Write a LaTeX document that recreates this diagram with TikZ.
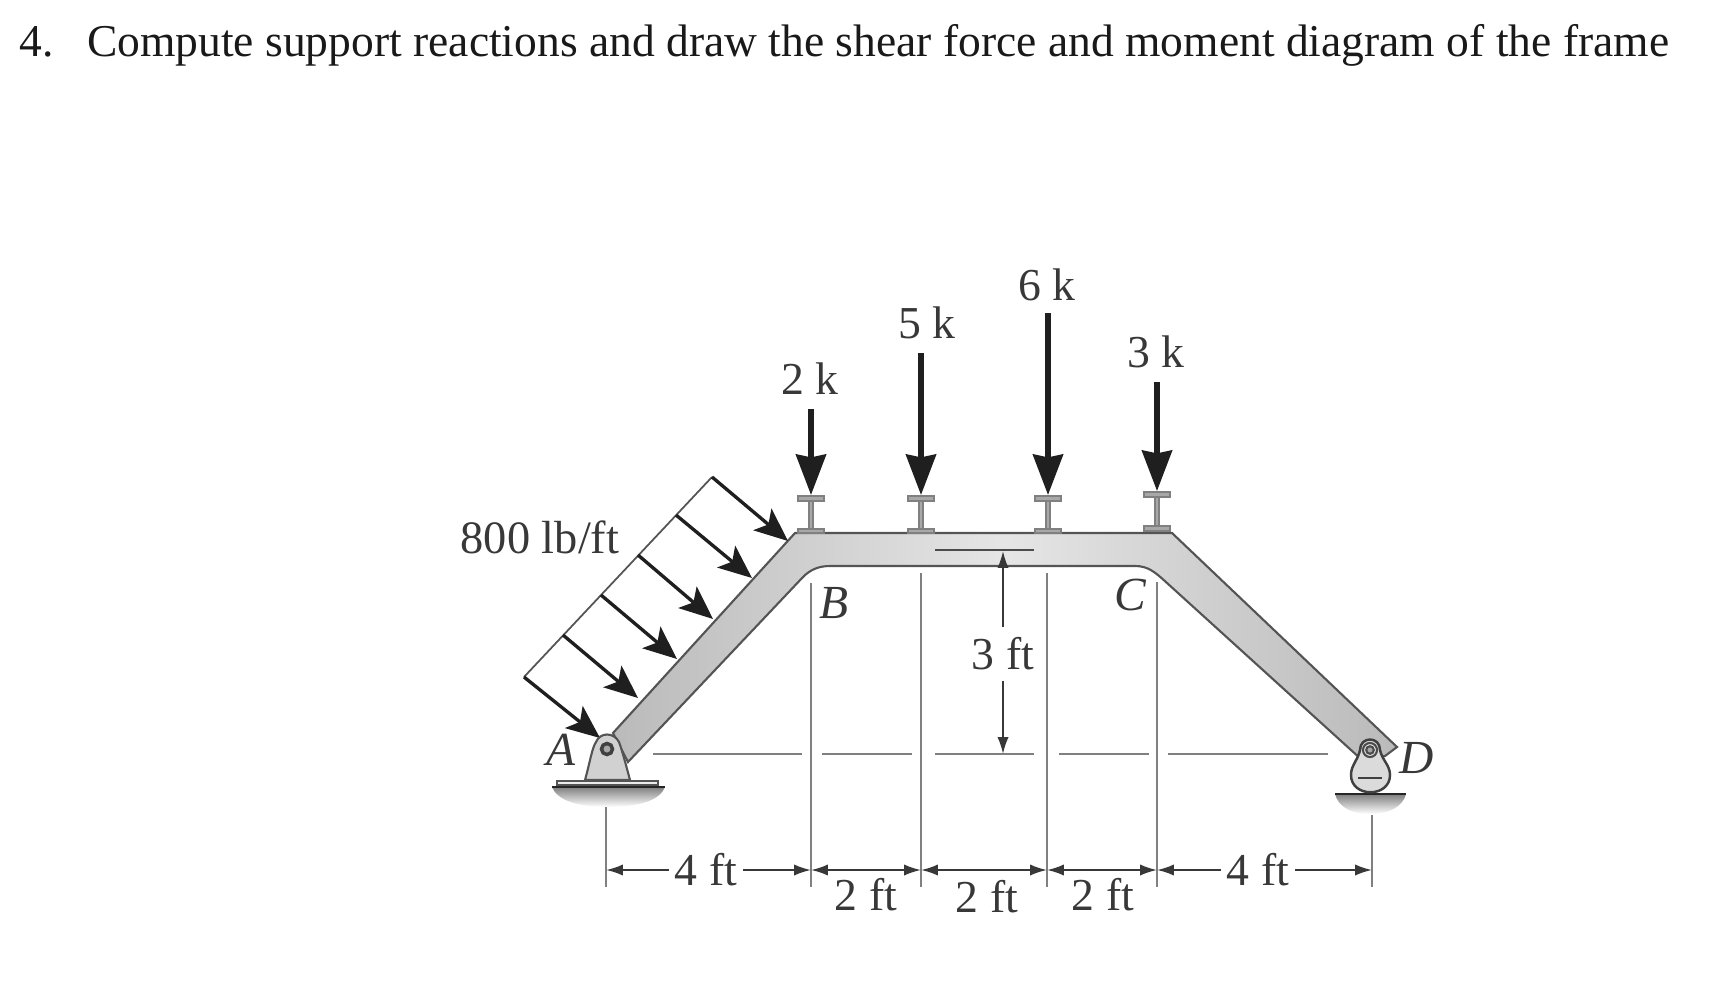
\documentclass[tikz,border=0pt]{standalone}
\usepackage{fontspec}
\setmainfont{Liberation Serif}
\usetikzlibrary{arrows.meta}
\definecolor{inkgray}{gray}{0.22}
\definecolor{rulegray}{gray}{0.5}
\definecolor{edgegray}{gray}{0.33}
\definecolor{steelgray}{gray}{0.66}
\tikzset{
   label/.style = {font=\fontsize{13}{15}\selectfont, text=inkgray, inner sep=1pt},
   pointname/.style = {label, font=\fontsize{13.5}{15}\selectfont\itshape},
   helpline/.style = {color=rulegray, line width=0.55pt},
   dimarrow/.style = {color=inkgray, line width=0.55pt, -{Latex[length=4.8pt,width=3.2pt]}},
   dimboth/.style = {color=inkgray, line width=0.55pt, {Latex[length=4.8pt,width=3.2pt]}-{Latex[length=4.8pt,width=3.2pt]}},
   udl/.style = {color=black!88, line width=0.95pt, -{Stealth[length=9.5pt,width=8pt,inset=2.2pt]}},
   pointload/.style = {color=black!88, line width=1.5pt, -{Stealth[length=11.5pt,width=8.5pt,inset=0.8pt]}},
   isection/.style = {fill=steelgray, draw=rulegray, line width=0.35pt},
   ground/.style = {top color=black!50, bottom color=white}
}
\begin{document}
\begin{tikzpicture}[x=0.01cm, y=-0.01cm]
   \useasboundingbox (0,0) rectangle (1712,1000);
   \node[anchor=base west, inner sep=0pt, text=black!90, font=\fontsize{12.95}{15}\selectfont] (title) at (19,57)
      {4.\hspace{0.73em}Compute support reactions and draw the shear force and moment diagram of the frame};

   % frame
   \draw[edgegray, line width=0.6pt, left color=black!27, right color=black!27, middle color=black!10]
      (613,733) -- (795,533) -- (1172,533) -- (1397,747) -- (1385,756) -- (1362,760) -- (1167,583)
      .. controls (1155,572) and (1148,566) .. (1135,566) -- (830,566)
      .. controls (818,566) and (810,570) .. (803,577) -- (628,762) -- cycle;
   \draw[color=black!70, line width=0.55pt] (935,550) -- (1034,550);

   % distributed load
   \draw[color=edgegray, line width=0.5pt] (524,677) -- (712,477);
   \draw[udl] (524,677) -- (600,738);
   \draw[udl] (563,635) -- (638,698);
   \draw[udl] (601,595) -- (677,659);
   \draw[udl] (638,555) -- (713,619);
   \draw[udl] (676,515) -- (752,578);
   \draw[udl] (712,477) -- (788,541);

   % point loads on their stubs
   \draw[isection] (798,496) rectangle (824,501) (809,501) rectangle (813,529) (798,529) rectangle (824,533);
   \draw[isection] (908,496) rectangle (934,501) (919,501) rectangle (923,529) (908,529) rectangle (934,533);
   \draw[isection] (1035,496) rectangle (1061,501) (1046,501) rectangle (1050,529) (1035,529) rectangle (1061,533);
   \draw[isection] (1144,492) rectangle (1170,497) (1155,497) rectangle (1159,526) (1144,526) rectangle (1170,531);
   \draw[pointload] (811,409) -- (811,495);
   \draw[pointload] (921,353) -- (921,495);
   \draw[pointload] (1048,313) -- (1048,495);
   \draw[pointload] (1157,382) -- (1157,491);
   \node[label] (loadb) at (810,379) {2 k};
   \node[label] (loadc) at (927,323) {5 k};
   \node[label] (loadd) at (1047,285) {6 k};
   \node[label] (loade) at (1156,352) {3 k};
   \node[label, font=\fontsize{13.2}{15}\selectfont] (udlval) at (540,537) {800 lb/ft};

   % pin at A
   \shade[ground] (552,787) -- (665,787) .. controls (660,800) and (640,807) .. (608,807)
      .. controls (577,807) and (557,800) .. (552,787) -- cycle;
   \draw[edgegray, line width=0.5pt, fill=black!8] (557,781) rectangle (658,785);
   \draw[color=black!85, line width=0.6pt] (552,787) -- (665,787);
   \draw[edgegray, line width=0.6pt, fill=black!18] (585,780)
      .. controls (590,762) and (592,748) .. (596,742)
      .. controls (600,732) and (614,732) .. (619,742)
      .. controls (622,750) and (626,765) .. (630,780) -- cycle;
   \draw[color=black!75, line width=1pt, fill=black!35] (607,749) circle (5.5);
   \node[pointname] (ptA) at (561,750) {A};

   % rocker at D
   \shade[ground] (1335,794) -- (1406,794) .. controls (1403,806) and (1390,814) .. (1370,814)
      .. controls (1350,814) and (1338,806) .. (1335,794) -- cycle;
   \draw[color=black!85, line width=0.7pt] (1335,794) -- (1406,794);
   \draw[color=black!75, line width=0.7pt, fill=black!14] (1360,750)
      .. controls (1360,736) and (1380,736) .. (1380,750)
      .. controls (1382,760) and (1390,765) .. (1390,775)
      .. controls (1390,798) and (1351,798) .. (1351,775)
      .. controls (1351,765) and (1358,760) .. (1360,750);
   \draw[color=black!70, line width=0.6pt, fill=black!10] (1370,750) circle (7);
   \draw[color=black!70, line width=0.6pt, fill=black!35] (1370,750) circle (3.8);
   \draw[color=black!75, line width=0.7pt] (1358,778) -- (1382,778);
   \node[pointname] (ptD) at (1417,758) {D};

   \node[pointname] (ptB) at (834,603) {B};
   \node[pointname] (ptC) at (1130,595) {C};

   % base line, broken by the verticals
   \draw[helpline] (653,754) -- (802,754);
   \draw[helpline] (822,754) -- (912,754);
   \draw[helpline] (935,754) -- (1034,754);
   \draw[helpline] (1059,754) -- (1149,754);
   \draw[helpline] (1168,754) -- (1328,754);

   % verticals
   \draw[helpline] (606,807) -- (606,887);
   \draw[helpline] (811,583) -- (811,887);
   \draw[helpline] (921,573) -- (921,887);
   \draw[helpline] (1047,573) -- (1047,887);
   \draw[helpline] (1157,582) -- (1157,887);
   \draw[helpline] (1372,815) -- (1372,887);

   % rise
   \coordinate (risetop) at (1003,551);
   \coordinate (risebase) at (1003,754);
   \node[label, inner ysep=2.7pt] (rise) at (1003,654) {3 ft};
   \draw[dimarrow] (rise) -- (risetop);
   \draw[dimarrow] (rise) -- (risebase);

   % spans
   \coordinate (sa) at (606,870);
   \coordinate (sb) at (811,870);
   \coordinate (sc) at (921,870);
   \coordinate (sd) at (1047,870);
   \coordinate (se) at (1157,870);
   \coordinate (sf) at (1372,870);
   \node[label, inner xsep=1.5pt] (spanab) at (706,870) {4 ft};
   \node[label, inner xsep=1.5pt] (spanef) at (1258,870) {4 ft};
   \node[label] (spanbc) at (866,895) {2 ft};
   \node[label] (spancd) at (987,897) {2 ft};
   \node[label] (spande) at (1103,895) {2 ft};
   \draw[dimarrow] (spanab) -- (sa);
   \draw[dimarrow] (spanab) -- (sb);
   \draw[dimboth] (sb) -- (sc);
   \draw[dimboth] (sc) -- (sd);
   \draw[dimboth] (sd) -- (se);
   \draw[dimarrow] (spanef) -- (se);
   \draw[dimarrow] (spanef) -- (sf);
\end{tikzpicture}
\end{document}
